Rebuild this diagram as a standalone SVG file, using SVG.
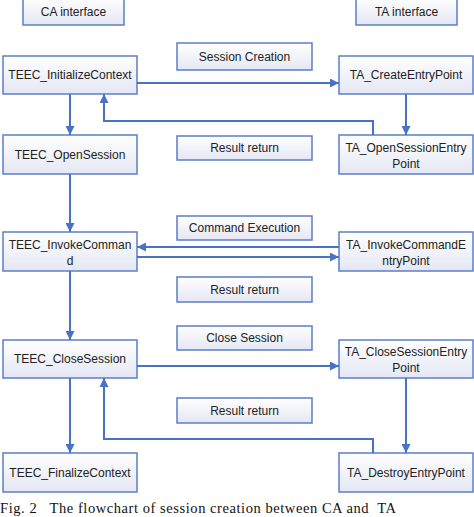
<svg xmlns="http://www.w3.org/2000/svg" width="474" height="517" viewBox="0 0 474 517">
<defs>
<linearGradient id="g" x1="0" y1="0" x2="0" y2="1">
<stop offset="0" stop-color="#ffffff"/>
<stop offset="1" stop-color="#e4e7f4"/>
</linearGradient>
<marker id="a" viewBox="0 0 10 10" refX="10" refY="5" markerWidth="4.5" markerHeight="4.5" orient="auto" markerUnits="strokeWidth">
<path d="M0,0 L10,5 L0,10 z" fill="#4a72c4"/>
</marker>
<style>
.b{fill:url(#g);stroke:#5b7fc6;stroke-width:1.5}
.t{font-family:"Liberation Sans",Arial,sans-serif;font-size:12px;fill:#222;text-anchor:middle}
.c{fill:none;stroke:#4a72c4;stroke-width:2;marker-end:url(#a)}
.cap{font-family:"Liberation Serif","Times New Roman",serif;font-size:14.5px;fill:#111}
</style>
</defs>
<rect width="474" height="517" fill="#fff"/>
<g id="ca-interface"><rect class="b" x="23" y="-2" width="101" height="27"/><text class="t" x="73.5" y="16">CA interface</text></g>
<g id="ta-interface"><rect class="b" x="356" y="-2" width="101" height="27"/><text class="t" x="406.5" y="16">TA interface</text></g>
<g id="session-creation"><rect class="b" x="177" y="43" width="135" height="27"/><text class="t" x="244.5" y="61">Session Creation</text></g>
<g id="teec-init"><rect class="b" x="3" y="56" width="134" height="38"/><text class="t" x="70" y="79">TEEC_InitializeContext</text></g>
<g id="ta-create"><rect class="b" x="339" y="56" width="134" height="38"/><text class="t" x="406" y="79">TA_CreateEntryPoint</text></g>
<g id="teec-open"><rect class="b" x="3" y="135" width="134" height="39"/><text class="t" x="70" y="159">TEEC_OpenSession</text></g>
<g id="result1"><rect class="b" x="177" y="136" width="135" height="24"/><text class="t" x="244.5" y="152">Result return</text></g>
<g id="ta-open"><rect class="b" x="339" y="135" width="134" height="39"/><text class="t" x="406" y="152">TA_OpenSessionEntry</text><text class="t" x="406" y="168">Point</text></g>
<g id="command-exec"><rect class="b" x="177" y="216" width="135" height="24"/><text class="t" x="244.5" y="232">Command Execution</text></g>
<g id="teec-invoke"><rect class="b" x="3" y="232" width="134" height="39"/><text class="t" x="70" y="249">TEEC_InvokeComman</text><text class="t" x="70" y="265">d</text></g>
<g id="ta-invoke"><rect class="b" x="339" y="232" width="134" height="39"/><text class="t" x="406" y="249">TA_InvokeCommandE</text><text class="t" x="406" y="265">ntryPoint</text></g>
<g id="result2"><rect class="b" x="177" y="277" width="135" height="25"/><text class="t" x="244.5" y="294">Result return</text></g>
<g id="close-session"><rect class="b" x="177" y="326" width="135" height="24"/><text class="t" x="244.5" y="342">Close Session</text></g>
<g id="teec-close"><rect class="b" x="3" y="340" width="134" height="38"/><text class="t" x="70" y="363">TEEC_CloseSession</text></g>
<g id="ta-close"><rect class="b" x="339" y="340" width="134" height="38"/><text class="t" x="406" y="356">TA_CloseSessionEntry</text><text class="t" x="406" y="372">Point</text></g>
<g id="result3"><rect class="b" x="177" y="398" width="135" height="25"/><text class="t" x="244.5" y="415">Result return</text></g>
<g id="teec-final"><rect class="b" x="3" y="453" width="134" height="39"/><text class="t" x="70" y="477">TEEC_FinalizeContext</text></g>
<g id="ta-destroy"><rect class="b" x="339" y="453" width="134" height="39"/><text class="t" x="406" y="477">TA_DestroyEntryPoint</text></g>
<g id="connectors">
<path class="c" d="M137,83 H339"/>
<path class="c" d="M70,94 V135"/>
<path class="c" d="M406,94 V135"/>
<path class="c" d="M373,135 V121 H104 V94"/>
<path class="c" d="M70,174 V232"/>
<path class="c" d="M339,247 H137"/>
<path class="c" d="M137,257 H339"/>
<path class="c" d="M70,271 V340"/>
<path class="c" d="M137,366 H339"/>
<path class="c" d="M70,378 V453"/>
<path class="c" d="M406,378 V453"/>
<path class="c" d="M373,453 V439 H104 V378"/>
</g>
<text class="cap" x="0" y="513" textLength="396" lengthAdjust="spacing" xml:space="preserve">Fig. 2   The flowchart of session creation between CA and  TA</text>
</svg>
